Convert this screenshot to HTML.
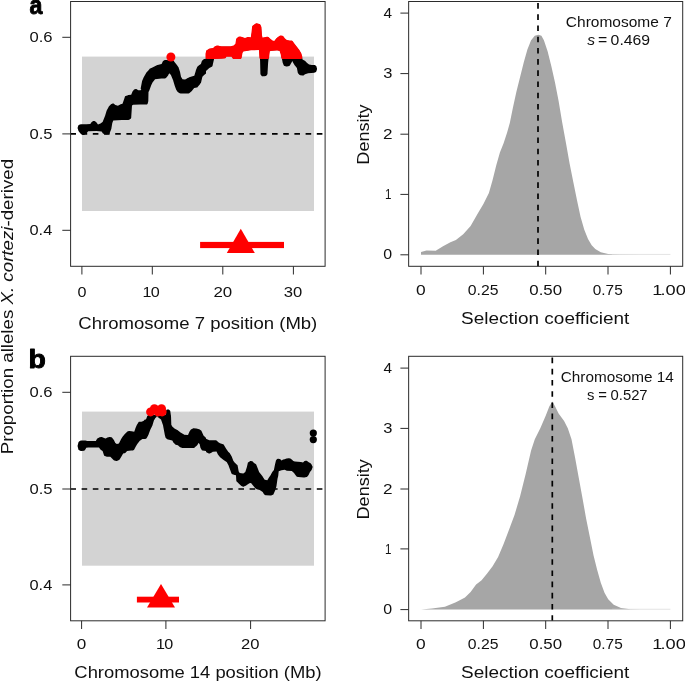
<!DOCTYPE html>
<html><head><meta charset="utf-8"><title>Figure</title>
<style>
html,body{margin:0;padding:0;background:#fff;}
svg{display:block;font-family:"Liberation Sans",sans-serif;fill:#111;}
</style></head><body>
<svg width="685" height="681" viewBox="0 0 685 681">
<rect width="685" height="681" fill="#fff"/>
<rect x="82" y="56.6" width="232" height="154.4" fill="#d3d3d3"/><line x1="70.4" x2="325.1" y1="133.9" y2="133.9" stroke="#000" stroke-width="1.7" stroke-dasharray="5.6 5.6"/><path d="M77.7,127.6 77.6,127.7 77.6,127.8 77.6,128.0 77.6,128.1 77.6,128.2 77.6,128.3 77.7,128.4 78.5,130.9 78.5,131.0 78.6,131.1 78.6,131.2 78.7,131.3 80.4,133.4 80.5,133.5 80.6,133.6 80.7,133.7 80.9,133.8 83.0,134.9 83.1,134.9 83.3,135.0 83.4,135.0 83.5,135.0 83.7,135.0 83.8,135.0 83.9,135.0 84.0,134.9 84.2,134.9 84.3,134.8 86.0,133.8 86.2,133.7 86.3,133.6 86.4,133.5 88.2,131.3 88.3,131.3 88.3,131.3 96.4,131.1 96.5,131.1 101.5,131.6 101.5,131.6 101.6,131.6 102.8,133.3 102.9,133.4 103.0,133.5 103.1,133.6 103.2,133.7 103.3,133.7 103.5,133.8 105.8,134.6 106.0,134.6 106.1,134.6 106.2,134.6 106.3,134.6 106.5,134.6 108.5,134.3 108.6,134.3 108.7,134.2 108.9,134.2 109.0,134.1 109.1,134.0 109.2,133.9 109.3,133.8 109.4,133.7 109.4,133.6 109.5,133.5 111.2,129.2 111.2,129.0 111.3,128.9 112.3,123.0 112.3,122.9 112.3,122.9 113.3,120.4 113.3,120.4 113.3,120.4 122.0,119.9 122.0,119.9 128.7,119.9 128.8,119.8 128.9,119.8 129.1,119.8 129.2,119.8 129.3,119.7 129.4,119.7 129.5,119.6 130.7,118.7 130.8,118.6 130.9,118.5 131.0,118.4 131.0,118.3 131.1,118.2 131.1,118.1 131.2,118.0 131.2,117.8 131.2,117.7 132.0,105.6 132.0,105.5 132.0,105.5 133.2,104.7 133.2,104.7 133.3,104.7 140.2,104.6 140.3,104.5 140.5,104.5 140.6,104.5 140.6,104.5 140.6,104.5 146.4,104.5 146.6,104.5 146.7,104.5 146.8,104.4 147.0,104.4 147.1,104.3 147.2,104.2 147.3,104.2 147.4,104.1 147.5,104.0 147.5,103.9 147.6,103.8 147.7,103.6 147.7,103.5 148.2,101.5 148.3,101.3 148.3,101.2 148.5,92.1 148.5,92.1 148.5,92.1 149.2,90.7 149.3,90.5 151.3,85.0 151.3,84.9 152.8,81.9 152.9,81.9 152.9,81.9 154.9,79.4 154.9,79.3 154.9,79.3 161.5,78.6 161.6,78.6 165.1,78.4 165.2,78.3 165.3,78.3 165.5,78.3 165.6,78.2 165.7,78.2 165.8,78.1 165.9,78.0 166.0,77.9 168.1,75.4 168.2,75.2 168.3,75.1 169.2,73.2 169.2,73.2 169.2,73.2 170.7,74.7 170.7,74.7 170.8,74.8 173.3,80.8 173.3,80.9 174.8,85.9 174.8,86.0 176.3,89.9 176.3,90.0 176.4,90.1 176.5,90.2 177.7,91.9 177.8,92.0 177.9,92.1 178.0,92.2 178.1,92.2 179.7,93.2 179.8,93.2 179.9,93.3 180.0,93.3 180.1,93.3 180.3,93.4 185.0,93.6 185.1,93.6 188.7,93.4 188.8,93.4 188.9,93.3 189.1,93.3 189.2,93.3 189.3,93.2 189.4,93.1 189.5,93.1 191.6,91.2 191.7,91.1 191.8,91.0 194.2,88.1 194.2,88.0 194.3,88.0 196.8,87.6 197.0,87.6 197.1,87.5 197.2,87.5 197.3,87.4 197.4,87.3 197.5,87.2 197.6,87.1 199.3,85.0 199.4,84.9 200.7,83.1 200.8,83.0 200.9,82.9 200.9,82.8 201.0,82.7 202.4,76.8 202.4,76.8 202.4,76.8 204.4,74.8 204.5,74.7 204.5,74.7 205.4,74.1 205.5,74.0 205.6,73.9 205.7,73.9 205.8,73.7 205.8,73.6 205.9,73.5 205.9,73.4 206.0,73.3 206.0,73.2 206.0,73.0 206.0,71.1 206.0,71.1 206.0,71.1 209.3,68.0 209.3,68.0 209.3,68.0 211.8,66.8 211.9,66.7 212.0,66.6 212.1,66.6 212.2,66.5 212.3,66.4 212.3,66.2 212.4,66.1 212.4,66.0 212.5,65.9 213.6,60.9 213.6,60.9 214.2,58.7 214.2,58.6 214.2,58.6 221.5,58.3 221.6,58.3 224.5,58.1 224.6,58.1 224.7,58.0 224.8,58.0 224.9,57.9 225.0,57.9 225.1,57.8 225.2,57.7 225.3,57.6 225.4,57.5 225.5,57.4 226.1,56.3 226.1,56.3 226.2,56.3 231.7,56.3 231.8,56.3 231.8,56.3 232.9,58.1 233.0,58.2 233.1,58.3 233.2,58.3 233.3,58.4 233.4,58.5 233.5,58.5 233.6,58.6 233.7,58.6 233.9,58.6 234.0,58.6 239.8,58.8 240.0,58.8 240.1,58.8 240.2,58.8 240.3,58.7 240.4,58.7 240.5,58.6 240.6,58.5 240.7,58.5 240.8,58.4 240.9,58.3 241.0,58.2 241.0,58.1 241.1,58.0 241.1,57.8 241.1,57.7 242.0,52.7 242.0,52.7 242.0,52.7 243.0,51.2 243.0,51.2 243.0,51.2 251.1,49.8 251.2,49.8 259.3,49.6 259.4,49.6 259.4,49.7 260.1,60.9 260.1,60.9 260.4,73.8 260.4,73.9 260.4,74.0 260.4,74.1 260.5,74.3 260.5,74.4 260.6,74.5 261.5,75.8 261.6,75.9 261.6,76.0 261.7,76.1 261.8,76.1 261.9,76.2 262.1,76.2 262.2,76.3 262.3,76.3 262.4,76.3 262.5,76.4 262.7,76.3 264.4,76.2 264.5,76.2 265.6,76.1 265.7,76.0 265.9,76.0 266.0,75.9 266.1,75.9 266.2,75.8 266.3,75.7 266.4,75.6 266.5,75.5 267.2,74.5 267.3,74.4 267.4,74.3 267.4,74.1 267.4,74.0 267.5,73.9 267.5,73.8 268.1,62.9 268.1,62.9 269.3,51.2 269.3,51.2 269.3,51.1 270.3,50.5 270.3,50.5 270.3,50.5 277.4,50.1 277.5,50.1 277.5,50.2 280.0,50.6 280.0,50.7 280.0,50.7 281.0,53.7 281.0,53.8 282.7,62.8 282.8,62.9 282.8,63.1 283.8,65.4 283.9,65.5 284.0,65.6 284.1,65.7 284.1,65.8 284.3,65.9 284.4,66.0 284.5,66.0 284.6,66.1 284.7,66.1 286.3,66.5 286.5,66.5 286.6,66.6 286.7,66.6 286.8,66.5 287.0,66.5 289.2,65.9 289.3,65.9 289.4,65.8 289.5,65.8 289.6,65.7 289.7,65.6 289.8,65.5 289.9,65.4 290.0,65.3 291.2,62.9 291.3,62.9 292.3,60.9 292.3,60.9 292.3,60.9 293.3,62.9 293.3,63.0 294.8,65.4 294.9,65.5 296.9,68.0 296.9,68.0 296.9,68.1 297.8,72.8 297.9,72.9 297.9,73.0 297.9,73.1 298.0,73.2 298.1,73.3 298.2,73.4 299.6,74.9 299.7,75.0 299.9,75.1 300.0,75.1 300.1,75.2 300.2,75.2 300.4,75.2 302.5,75.6 302.6,75.6 302.7,75.6 302.8,75.6 303.0,75.6 303.1,75.5 303.2,75.5 303.3,75.4 303.5,75.4 305.0,74.2 305.1,74.2 305.1,74.2 308.1,73.3 308.1,73.3 308.1,73.3 314.4,72.7 314.6,72.6 314.7,72.6 314.8,72.6 314.9,72.5 315.0,72.4 315.9,71.9 316.0,71.8 316.1,71.7 316.2,71.6 316.3,71.5 316.3,71.4 316.4,71.3 316.4,71.2 317.0,69.2 317.0,69.1 317.0,69.0 317.1,68.8 317.0,68.7 317.0,68.6 317.0,68.5 316.4,66.4 316.4,66.3 316.3,66.2 316.3,66.1 316.2,66.0 316.1,65.9 316.0,65.8 315.9,65.7 315.1,65.2 315.0,65.1 314.9,65.1 314.7,65.0 314.6,65.0 314.5,65.0 314.4,65.0 311.7,65.0 311.7,65.0 311.7,65.0 309.2,64.5 309.1,64.5 309.1,64.4 307.1,62.9 307.1,62.9 305.2,61.0 305.0,60.9 304.9,60.8 302.5,59.4 302.5,59.3 302.5,59.3 301.0,53.9 301.0,53.8 300.9,53.7 300.9,53.6 299.0,50.2 298.9,50.1 298.9,50.1 296.9,47.6 296.9,47.6 295.3,45.5 293.8,43.5 293.8,43.5 292.2,41.4 292.1,41.3 292.0,41.3 291.9,41.2 291.8,41.1 291.6,41.1 291.5,41.0 291.4,41.0 291.3,41.0 291.1,40.9 289.7,40.9 289.7,40.9 289.7,40.9 286.7,40.4 286.7,40.4 286.6,40.4 284.6,38.9 284.6,38.9 284.6,38.9 283.1,36.7 283.0,36.6 282.9,36.5 282.8,36.5 282.7,36.4 282.5,36.3 282.4,36.3 282.3,36.2 281.1,36.0 280.9,35.9 280.8,35.9 280.7,35.9 280.5,36.0 280.4,36.0 280.3,36.0 280.2,36.1 280.1,36.2 278.0,37.5 277.9,37.6 276.5,38.8 276.4,38.9 276.4,39.0 274.4,41.4 274.4,41.5 274.4,41.5 272.4,41.0 272.4,40.9 272.3,40.9 270.3,39.4 270.3,39.4 268.6,37.7 268.5,37.6 268.4,37.5 268.3,37.5 268.2,37.4 268.0,37.4 267.9,37.3 267.8,37.3 267.0,37.3 266.8,37.2 266.7,37.3 266.6,37.3 266.5,37.3 266.4,37.4 266.2,37.4 266.1,37.5 266.0,37.6 266.0,37.6 266.0,37.6 262.1,38.2 262.1,38.2 262.1,38.2 261.5,35.4 261.5,35.3 261.5,35.3 261.0,27.4 261.0,27.3 261.0,27.2 260.9,27.0 260.9,26.9 260.1,25.2 260.1,25.1 260.0,24.9 259.9,24.8 259.8,24.8 259.7,24.7 259.6,24.6 259.5,24.5 259.4,24.5 259.3,24.4 256.9,23.8 256.7,23.8 256.6,23.8 256.5,23.8 256.4,23.8 256.3,23.8 256.1,23.8 256.0,23.9 255.9,23.9 255.8,24.0 253.2,25.8 253.1,25.9 253.0,26.0 252.9,26.0 252.9,26.1 252.8,26.3 252.7,26.4 252.7,26.5 252.7,26.6 252.6,26.7 252.0,32.3 252.0,32.3 251.2,37.9 251.2,37.9 251.1,37.9 248.4,37.4 248.3,37.4 248.2,37.4 248.1,37.4 247.9,37.4 247.8,37.5 245.1,38.4 245.0,38.4 245.0,38.4 242.0,37.4 241.9,37.4 240.3,37.0 240.2,36.9 240.1,36.9 239.9,36.9 239.8,36.9 239.7,36.9 239.6,37.0 238.7,37.3 238.5,37.3 238.4,37.4 238.3,37.5 238.2,37.5 237.0,38.6 236.9,38.7 236.8,38.8 236.8,38.9 236.7,39.0 236.7,39.1 236.6,39.2 236.6,39.4 235.9,44.0 235.9,44.0 235.8,44.0 233.8,46.0 233.8,46.1 233.8,46.1 230.8,46.8 230.7,46.8 230.7,46.8 221.6,46.8 221.5,46.8 219.5,46.6 219.5,46.6 219.5,46.6 217.9,46.0 217.8,46.0 217.6,45.9 217.5,45.9 217.4,45.9 217.3,45.9 217.1,46.0 217.0,46.0 215.2,46.7 215.1,46.7 215.0,46.8 214.9,46.9 214.8,46.9 214.7,47.0 213.4,48.6 213.4,48.6 213.3,48.6 209.6,49.1 209.4,49.1 209.3,49.2 209.2,49.2 209.0,49.3 207.2,50.4 207.1,50.4 207.0,50.5 206.9,50.6 206.8,50.7 206.7,50.8 206.7,50.9 206.6,51.1 206.6,51.2 206.0,53.6 206.0,53.7 206.0,53.9 206.0,58.4 206.0,58.4 206.0,58.4 203.7,59.3 203.6,59.4 203.5,59.4 203.4,59.5 203.3,59.6 202.1,60.7 202.0,60.8 202.0,60.9 201.9,61.0 201.9,61.1 201.8,61.2 200.9,64.0 200.9,64.0 200.9,64.0 199.4,65.0 199.3,65.1 197.6,66.6 197.5,66.6 197.4,66.7 197.3,66.8 197.2,67.0 197.2,67.1 195.8,70.6 195.8,70.7 194.3,75.7 194.2,75.8 194.2,75.8 191.7,76.6 191.7,76.6 189.3,77.3 189.1,77.3 189.0,77.4 187.2,78.3 187.0,78.4 185.1,79.6 185.0,79.6 185.0,79.6 182.5,79.3 182.5,79.3 182.5,79.3 181.0,76.8 181.0,76.8 181.0,76.8 180.0,71.8 179.9,71.6 178.5,67.3 178.4,67.1 178.4,67.0 178.3,66.9 176.9,65.0 174.1,61.4 174.1,61.3 174.0,61.2 173.9,61.1 173.8,61.0 173.6,61.0 173.5,60.9 173.4,60.9 173.3,60.9 169.7,60.4 169.7,60.4 166.8,59.9 166.7,59.9 166.5,59.9 165.4,59.9 165.3,59.9 165.2,59.9 165.1,60.0 165.0,60.0 164.8,60.1 163.5,60.8 163.4,60.8 163.3,60.9 163.2,61.0 163.1,61.0 163.0,61.1 162.9,61.2 162.9,61.3 161.6,64.0 161.5,64.0 161.5,64.0 157.6,65.0 157.5,65.0 157.3,65.1 154.4,66.6 151.4,68.1 151.3,68.1 150.2,68.5 150.1,68.5 149.9,68.6 149.8,68.7 149.7,68.7 149.6,68.8 149.6,68.9 148.3,70.6 148.2,70.7 146.8,72.1 146.7,72.2 146.6,72.3 143.7,77.2 143.6,77.4 142.2,80.7 142.1,80.9 142.1,81.0 140.7,88.3 140.7,88.4 140.7,88.5 140.7,88.7 140.7,88.8 140.8,88.9 140.8,89.0 140.9,89.2 140.9,89.3 141.0,89.4 141.1,89.5 141.2,89.5 141.4,89.7 141.4,89.7 141.4,89.7 140.4,90.2 140.4,90.2 140.3,90.2 138.4,90.2 138.3,90.2 138.3,90.2 136.7,89.3 136.6,89.2 136.5,89.1 136.4,89.1 136.3,89.1 136.2,89.1 136.0,89.1 135.9,89.1 135.8,89.1 134.7,89.3 134.6,89.3 134.5,89.4 134.3,89.4 134.2,89.5 134.1,89.6 134.0,89.7 133.9,89.8 132.5,91.6 132.5,91.7 132.4,91.8 132.3,91.9 131.2,94.8 131.2,94.8 131.1,94.8 128.3,95.1 128.1,95.1 128.0,95.2 125.7,95.9 125.6,96.0 125.5,96.0 125.4,96.1 125.3,96.2 125.2,96.3 125.1,96.3 125.0,96.4 124.9,96.6 124.9,96.7 124.9,96.8 124.0,99.4 124.0,99.4 122.5,103.7 122.5,103.7 122.5,103.7 120.6,104.3 120.5,104.3 120.3,104.4 117.9,105.7 117.9,105.7 117.9,105.7 115.4,105.0 115.3,105.0 115.3,105.0 113.9,103.8 113.8,103.7 113.7,103.6 113.6,103.6 113.4,103.5 113.3,103.5 113.2,103.5 113.1,103.5 113.0,103.5 112.8,103.5 112.7,103.5 112.6,103.5 111.6,103.9 111.4,104.0 111.3,104.0 111.2,104.1 111.1,104.2 111.0,104.3 108.8,106.6 108.7,106.7 108.7,106.8 108.6,106.9 106.7,110.5 106.7,110.7 106.6,110.8 105.1,115.7 105.1,115.8 102.6,121.9 102.6,121.9 102.5,121.9 100.5,123.4 100.5,123.4 100.5,123.4 98.0,124.4 98.0,124.4 98.0,124.4 96.1,122.1 96.0,122.0 95.9,121.9 95.8,121.8 95.7,121.8 94.6,121.1 94.4,121.0 94.3,121.0 94.2,120.9 94.1,120.9 93.9,120.9 93.8,120.9 93.7,120.9 93.6,120.9 93.4,121.0 93.3,121.0 93.2,121.1 92.1,121.7 92.0,121.8 91.9,121.9 91.8,122.0 91.7,122.1 90.3,124.1 90.3,124.1 90.3,124.1 86.2,124.3 86.2,124.3 81.3,124.2 81.2,124.2 81.1,124.2 81.0,124.2 80.9,124.2 79.2,124.8 79.1,124.8 79.0,124.9 78.9,124.9 78.8,125.0 78.7,125.1 78.6,125.2 78.5,125.3 78.4,125.4 78.4,125.5 78.3,125.6Z" fill="#000"/><path d="M205.5,57.4 205.5,57.6 205.5,57.7 205.6,57.9 205.6,58.0 205.7,58.2 205.8,58.3 205.9,58.5 206.0,58.6 206.1,58.7 206.3,58.8 206.4,58.9 206.5,59.0 206.7,59.0 206.9,59.1 207.0,59.1 207.2,59.1 214.8,59.1 214.9,59.1 221.5,58.8 221.6,58.8 221.6,58.8 221.6,58.8 224.5,58.6 224.5,58.6 224.6,58.6 224.7,58.5 224.8,58.5 224.9,58.5 224.9,58.5 225.1,58.4 225.1,58.4 225.2,58.3 225.2,58.3 225.4,58.3 225.4,58.2 225.5,58.1 225.5,58.1 225.6,58.0 225.6,58.0 225.7,57.9 225.8,57.9 225.8,57.8 225.9,57.7 225.9,57.7 226.4,56.8 231.5,56.8 232.5,58.3 232.5,58.4 232.6,58.4 232.7,58.5 232.8,58.6 232.9,58.7 233.0,58.8 233.2,58.9 233.3,59.0 233.5,59.0 233.6,59.1 233.8,59.1 233.9,59.1 240.0,59.1 240.2,59.1 240.3,59.1 240.5,59.0 240.6,59.0 240.8,58.9 240.9,58.8 241.1,58.7 241.2,58.6 241.3,58.5 241.4,58.3 241.5,58.2 241.6,58.0 241.6,57.8 241.7,57.7 242.5,52.9 243.3,51.6 251.2,50.3 251.2,50.3 251.2,50.3 251.3,50.3 258.9,50.1 259.4,57.5 259.4,57.7 259.4,57.8 259.5,58.0 259.5,58.2 259.6,58.3 259.7,58.5 259.8,58.6 260.0,58.7 260.1,58.8 260.2,58.9 260.4,59.0 260.5,59.0 260.7,59.1 260.9,59.1 261.1,59.1 267.4,59.1 267.6,59.1 267.8,59.1 267.9,59.0 268.1,59.0 268.2,58.9 268.4,58.8 268.5,58.7 268.6,58.6 268.7,58.5 268.8,58.3 268.9,58.2 269.0,58.1 269.1,57.9 269.1,57.7 269.1,57.6 269.8,51.4 270.5,50.9 277.4,50.6 277.4,50.6 279.6,51.1 280.5,53.8 280.5,53.8 280.6,53.9 280.6,53.9 281.3,57.7 281.3,57.9 281.4,58.0 281.4,58.2 281.5,58.3 281.6,58.5 281.7,58.6 281.9,58.7 282.0,58.8 282.1,58.9 282.3,59.0 282.5,59.0 282.6,59.1 282.8,59.1 283.0,59.1 300.7,59.1 300.9,59.1 301.0,59.1 301.2,59.0 301.4,59.0 301.5,58.9 301.7,58.8 301.8,58.7 301.9,58.6 302.0,58.5 302.1,58.4 302.2,58.2 302.3,58.1 302.3,57.9 302.4,57.8 302.4,57.6 302.4,57.4 302.4,57.3 302.4,57.1 302.4,57.0 301.5,53.8 301.5,53.7 301.5,53.7 301.4,53.5 301.4,53.5 301.4,53.4 301.3,53.4 301.3,53.3 299.4,50.0 299.4,49.9 299.4,49.9 299.3,49.8 299.3,49.8 299.2,49.7 297.3,47.3 297.3,47.3 297.3,47.3 297.3,47.3 295.7,45.2 294.2,43.2 294.2,43.2 294.2,43.2 294.2,43.2 292.6,41.1 292.5,41.1 292.5,41.1 292.4,40.9 292.4,40.9 292.2,40.8 292.2,40.8 292.1,40.7 292.1,40.7 291.9,40.6 291.9,40.6 291.8,40.6 291.8,40.6 291.6,40.5 291.6,40.5 291.4,40.5 291.4,40.5 291.2,40.5 291.2,40.5 291.1,40.4 289.8,40.4 289.8,40.4 286.9,40.0 285.0,38.6 283.5,36.5 283.4,36.4 283.4,36.4 283.3,36.2 283.3,36.2 283.2,36.1 283.1,36.1 283.0,36.0 283.0,36.0 282.8,35.9 282.8,35.9 282.7,35.8 282.7,35.8 282.5,35.8 282.5,35.8 282.4,35.7 281.2,35.5 281.1,35.5 281.1,35.5 280.9,35.4 280.9,35.4 280.7,35.4 280.7,35.4 280.6,35.4 280.5,35.5 280.4,35.5 280.4,35.5 280.2,35.5 280.2,35.5 280.0,35.6 280.0,35.6 279.9,35.7 279.8,35.7 279.8,35.8 277.8,37.1 277.7,37.2 277.6,37.2 277.6,37.3 276.2,38.4 276.2,38.5 276.1,38.5 276.0,38.6 276.0,38.6 276.0,38.7 274.2,40.9 272.6,40.5 270.7,39.1 270.6,39.0 270.6,39.0 270.6,39.0 269.0,37.4 268.9,37.3 268.9,37.3 268.7,37.2 268.7,37.2 268.6,37.1 268.6,37.1 268.4,37.0 268.4,37.0 268.3,36.9 268.3,36.9 268.1,36.9 268.1,36.9 267.9,36.8 267.9,36.8 267.8,36.8 267.1,36.8 267.0,36.8 266.9,36.8 266.8,36.8 266.8,36.8 266.6,36.8 266.6,36.8 266.4,36.8 266.4,36.8 266.2,36.9 266.2,36.9 266.1,36.9 266.1,36.9 265.9,37.0 265.9,37.0 265.8,37.1 262.5,37.6 262.0,35.3 262.0,35.3 261.5,27.4 261.5,27.3 261.5,27.3 261.5,27.1 261.5,27.1 261.4,27.0 261.4,27.0 261.4,26.8 261.4,26.8 261.3,26.7 260.6,25.0 260.6,24.9 260.5,24.9 260.5,24.7 260.4,24.7 260.3,24.6 260.3,24.6 260.2,24.5 260.2,24.4 260.1,24.3 260.1,24.3 260.0,24.2 259.9,24.2 259.8,24.1 259.8,24.1 259.6,24.0 259.6,24.0 259.5,24.0 259.4,24.0 259.4,23.9 257.0,23.3 256.9,23.3 256.9,23.3 256.7,23.3 256.7,23.3 256.6,23.3 256.6,23.3 256.4,23.3 256.4,23.3 256.2,23.3 256.2,23.3 256.1,23.3 256.1,23.4 255.9,23.4 255.9,23.4 255.7,23.5 255.7,23.5 255.6,23.6 255.6,23.6 255.5,23.6 252.9,25.4 252.9,25.4 252.8,25.4 252.7,25.5 252.7,25.5 252.6,25.7 252.6,25.7 252.5,25.8 252.5,25.8 252.4,25.9 252.4,25.9 252.3,26.1 252.3,26.1 252.3,26.2 252.2,26.3 252.2,26.4 252.2,26.4 252.2,26.6 252.2,26.6 252.1,26.7 251.5,32.2 251.5,32.2 250.8,37.3 248.5,36.9 248.5,36.9 248.4,36.9 248.3,36.9 248.2,36.9 248.1,36.9 248.1,36.9 247.9,36.9 247.9,36.9 247.7,37.0 247.7,37.0 247.6,37.0 245.0,37.9 242.2,36.9 242.1,36.9 242.1,36.9 242.0,36.9 240.5,36.5 240.4,36.5 240.3,36.4 240.2,36.4 240.2,36.4 240.0,36.4 240.0,36.4 239.8,36.4 239.8,36.4 239.7,36.4 239.7,36.4 239.5,36.5 239.5,36.5 239.4,36.5 238.5,36.8 238.4,36.8 238.4,36.8 238.3,36.9 238.2,36.9 238.1,37.0 238.1,37.0 238.0,37.1 237.9,37.1 237.9,37.2 236.7,38.2 236.7,38.3 236.6,38.3 236.5,38.4 236.5,38.4 236.4,38.5 236.4,38.6 236.3,38.7 236.3,38.7 236.2,38.9 236.2,38.9 236.2,39.0 236.2,39.0 236.1,39.2 236.1,39.2 236.1,39.3 235.4,43.8 233.6,45.6 230.7,46.3 230.7,46.3 221.6,46.3 221.6,46.3 221.6,46.3 221.5,46.3 219.6,46.1 219.6,46.1 218.1,45.5 218.0,45.5 218.0,45.5 217.8,45.5 217.8,45.5 217.6,45.4 217.6,45.4 217.5,45.4 217.5,45.4 217.3,45.4 217.3,45.4 217.1,45.5 217.1,45.5 216.9,45.5 216.9,45.5 216.8,45.5 215.1,46.2 215.0,46.2 215.0,46.2 214.8,46.3 214.8,46.3 214.7,46.4 214.6,46.4 214.5,46.5 214.5,46.5 214.4,46.6 214.3,46.7 214.3,46.7 213.1,48.1 209.5,48.6 209.4,48.6 209.4,48.6 209.2,48.6 209.2,48.7 209.0,48.7 209.0,48.7 208.9,48.8 208.8,48.8 208.8,48.9 207.0,49.9 206.9,50.0 206.9,50.0 206.7,50.1 206.7,50.1 206.6,50.2 206.6,50.2 206.5,50.4 206.5,50.4 206.4,50.5 206.4,50.5 206.3,50.7 206.3,50.7 206.2,50.8 206.2,50.8 206.1,51.0 206.1,51.0 206.1,51.1 205.6,53.4 205.5,53.5 205.5,53.6 205.5,53.8 205.5,53.8 205.5,53.9Z" fill="#f00"/><g fill="#f00"><circle cx="170.9" cy="57.0" r="4.5"/></g><rect x="200.1" y="241.9" width="83.9" height="6.2" fill="#f00"/><polygon points="240.8,228.8 226.8,253.1 254.8,253.1" fill="#f00"/><rect x="70.6" y="1.5" width="254.5" height="264.8" fill="none" stroke="#2b2b2b" stroke-width="1"/><line x1="62.3" x2="70.6" y1="37.3" y2="37.3" stroke="#2b2b2b" stroke-width="1"/><line x1="62.3" x2="70.6" y1="133.9" y2="133.9" stroke="#2b2b2b" stroke-width="1"/><line x1="62.3" x2="70.6" y1="230.3" y2="230.3" stroke="#2b2b2b" stroke-width="1"/><line x1="81.9" x2="81.9" y1="266.3" y2="274.5" stroke="#2b2b2b" stroke-width="1"/><line x1="152.3" x2="152.3" y1="266.3" y2="274.5" stroke="#2b2b2b" stroke-width="1"/><line x1="222.8" x2="222.8" y1="266.3" y2="274.5" stroke="#2b2b2b" stroke-width="1"/><line x1="293.4" x2="293.4" y1="266.3" y2="274.5" stroke="#2b2b2b" stroke-width="1"/>
<rect x="82" y="411.6" width="232" height="154.1" fill="#d3d3d3"/><line x1="70.4" x2="325.1" y1="489" y2="489" stroke="#000" stroke-width="1.7" stroke-dasharray="5.6 5.6"/><path d="M158.7,414.9 158.5,414.9 158.4,415.0 158.3,415.0 158.2,415.0 158.0,415.1 157.9,415.1 157.8,415.2 157.7,415.3 157.7,415.4 157.6,415.5 157.5,415.6 157.5,415.7 157.4,415.9 157.4,416.0 157.4,416.1 157.4,416.2 157.4,416.4 157.4,416.5 157.4,416.6 157.5,416.7 157.5,416.9 157.6,417.0 157.7,417.1 157.8,417.2 157.8,417.2 158.0,417.3 159.0,418.0 159.0,418.0 161.0,419.5 161.0,419.5 161.0,419.6 163.1,425.6 163.1,425.7 164.6,433.8 164.6,433.9 165.5,437.5 165.6,437.6 165.6,437.7 165.7,437.8 165.7,437.9 165.8,438.0 165.9,438.1 166.0,438.2 167.4,439.3 167.5,439.3 167.6,439.4 167.7,439.4 167.9,439.5 168.0,439.5 170.2,440.0 170.2,440.0 172.2,440.5 172.3,440.5 172.3,440.5 173.7,442.9 173.8,443.0 173.9,443.1 175.1,444.3 175.2,444.4 175.3,444.5 175.4,444.6 175.5,444.6 175.7,444.7 177.9,445.3 177.9,445.3 177.9,445.3 179.8,447.0 179.9,447.0 180.0,447.1 180.1,447.2 180.2,447.2 181.8,447.8 181.9,447.9 182.0,447.9 182.1,447.9 182.2,447.9 193.8,447.9 193.9,447.9 194.0,447.9 194.2,447.9 194.3,447.8 194.4,447.8 194.5,447.7 194.6,447.6 195.7,446.6 195.8,446.6 197.2,445.2 197.3,445.1 197.4,444.9 198.5,443.1 198.5,443.0 198.6,443.1 199.5,444.0 199.6,444.1 199.6,444.1 200.5,448.0 200.6,448.1 200.6,448.2 200.7,448.3 201.6,449.8 201.7,449.9 201.7,450.0 201.8,450.1 201.9,450.2 202.0,450.3 202.2,450.4 202.3,450.4 202.4,450.4 202.5,450.5 206.0,450.9 206.0,450.9 206.0,450.9 206.0,451.3 206.0,451.4 206.0,451.5 206.1,451.7 206.1,451.8 206.2,451.9 206.2,452.0 206.3,452.1 206.4,452.2 206.5,452.3 206.6,452.4 206.8,452.4 208.8,453.4 208.9,453.4 209.0,453.5 209.2,453.5 209.3,453.5 209.4,453.5 209.6,453.5 209.7,453.4 209.8,453.4 211.2,452.8 211.3,452.8 211.4,452.7 212.8,451.8 212.9,451.8 212.9,451.8 216.4,451.6 216.4,451.6 216.5,451.6 217.9,454.5 218.0,454.6 218.1,454.7 219.9,457.1 220.0,457.2 220.1,457.3 223.6,459.9 223.6,460.0 226.6,462.0 226.7,462.0 226.7,462.0 228.7,465.8 228.7,465.9 230.2,470.0 231.5,473.5 231.6,473.6 231.7,473.7 231.7,473.8 231.8,473.9 231.9,474.0 232.0,474.1 232.1,474.1 232.2,474.2 232.4,474.2 234.7,475.0 234.9,475.1 235.9,475.3 236.0,475.3 236.0,475.3 236.0,475.6 236.0,475.7 236.3,480.8 236.3,480.9 236.3,481.0 236.4,481.1 236.4,481.2 236.5,481.3 236.5,481.4 236.6,481.5 236.7,481.6 239.2,484.0 239.2,484.1 241.1,485.8 241.2,485.8 241.3,485.9 241.4,486.0 242.7,486.6 242.8,486.7 243.0,486.7 243.1,486.7 243.2,486.7 243.4,486.7 243.5,486.7 243.6,486.7 243.7,486.7 243.9,486.6 246.3,485.4 246.4,485.3 249.4,483.3 249.4,483.3 249.4,483.3 250.9,483.0 250.9,483.0 251.0,483.0 253.0,485.4 253.0,485.4 254.9,487.8 255.0,487.9 255.1,488.0 256.4,489.0 256.5,489.1 256.6,489.1 256.7,489.2 256.8,489.2 259.6,490.0 259.6,490.0 259.7,490.0 262.7,492.0 262.7,492.0 262.7,492.0 264.0,494.2 264.1,494.3 264.2,494.4 264.3,494.5 264.4,494.6 264.5,494.7 264.6,494.7 265.5,495.2 265.7,495.2 265.8,495.3 265.9,495.3 266.0,495.3 270.6,495.6 270.7,495.6 270.9,495.6 271.0,495.5 271.1,495.5 272.9,494.8 273.0,494.7 273.2,494.6 273.3,494.6 273.4,494.5 273.4,494.4 273.5,494.3 273.6,494.2 273.6,494.1 274.9,491.1 275.0,490.9 276.5,486.0 276.5,485.9 276.5,485.8 277.5,478.7 277.5,478.7 278.2,476.0 278.2,475.9 278.7,471.3 278.7,471.3 278.7,471.3 281.5,470.3 281.5,470.3 281.6,470.2 284.6,469.7 284.6,469.7 284.6,469.8 286.4,470.6 286.5,470.7 286.7,470.7 286.8,470.8 286.9,470.8 291.7,471.0 291.8,471.0 291.8,471.0 294.3,473.3 294.3,473.3 294.3,473.4 296.2,476.1 296.2,476.2 296.3,476.3 296.4,476.3 296.5,476.4 296.6,476.5 296.7,476.5 297.7,477.0 297.8,477.0 297.9,477.1 298.0,477.1 298.2,477.1 303.9,477.4 304.0,477.4 304.2,477.4 306.6,477.0 306.7,477.0 306.8,476.9 306.9,476.9 307.0,476.8 307.1,476.7 307.2,476.7 307.3,476.6 307.4,476.5 308.6,474.9 308.6,474.9 308.7,474.7 310.1,471.8 310.2,471.8 310.2,471.8 311.6,469.9 311.6,469.8 311.7,469.7 311.8,469.6 312.5,467.4 312.6,467.3 312.6,467.2 312.6,467.0 312.6,466.9 312.6,466.8 312.6,466.6 312.5,466.5 312.5,466.4 311.4,464.2 311.3,464.0 311.2,463.9 311.1,463.9 311.1,463.8 311.0,463.7 310.9,463.6 309.2,462.6 309.1,462.6 307.7,461.4 307.6,461.4 307.5,461.3 306.6,460.8 306.4,460.8 306.3,460.7 306.2,460.7 306.1,460.7 305.9,460.7 305.8,460.7 305.7,460.7 305.5,460.7 304.8,461.0 304.7,461.0 304.6,461.1 304.4,461.1 304.3,461.2 303.0,462.4 303.0,462.4 303.0,462.4 301.0,462.1 300.9,462.1 294.9,461.6 294.8,461.6 294.8,461.6 293.3,461.1 293.3,461.1 293.3,461.0 291.8,459.6 291.7,459.5 291.0,458.9 290.9,458.8 290.8,458.8 290.7,458.7 290.6,458.7 290.4,458.6 288.9,458.3 288.8,458.3 288.6,458.3 288.5,458.3 286.8,458.5 286.7,458.5 286.6,458.5 286.5,458.6 284.6,459.3 284.6,459.3 284.6,459.3 283.4,459.5 283.3,459.5 283.1,459.5 283.0,459.6 282.9,459.6 282.8,459.7 281.6,460.5 281.5,460.5 281.5,460.5 280.3,459.3 280.2,459.2 280.1,459.1 280.0,459.1 279.9,459.0 279.7,459.0 279.6,458.9 278.3,458.7 278.2,458.7 278.1,458.7 278.0,458.7 277.9,458.7 277.7,458.8 277.6,458.8 277.5,458.9 277.4,458.9 277.3,459.0 277.2,459.1 276.2,460.1 276.2,460.2 276.1,460.3 276.0,460.4 276.0,460.5 275.9,460.6 275.9,460.7 275.0,464.4 275.0,464.5 273.9,470.0 273.9,470.0 273.9,470.1 272.5,471.7 272.4,471.8 272.3,471.9 270.9,474.6 270.9,474.7 268.8,477.7 268.8,477.7 267.3,480.2 267.3,480.3 267.3,480.2 264.8,479.7 264.7,479.7 264.7,479.7 262.7,476.7 262.7,476.6 259.1,472.1 259.1,472.1 259.1,472.0 257.6,468.0 257.6,468.0 256.2,464.6 256.2,464.5 256.1,464.4 256.0,464.3 255.9,464.2 255.8,464.1 255.7,464.0 254.0,462.9 254.0,462.9 254.0,462.9 252.7,461.6 252.6,461.5 252.6,461.5 252.5,461.4 252.4,461.3 252.2,461.3 252.1,461.3 251.0,461.0 250.9,461.0 250.8,460.9 250.6,460.9 250.5,461.0 250.4,461.0 250.3,461.0 250.2,461.0 250.1,461.1 250.0,461.2 248.3,462.3 248.2,462.4 248.1,462.4 248.0,462.5 248.0,462.6 247.9,462.7 247.8,462.8 247.8,463.0 247.8,463.1 246.9,467.0 246.9,467.0 245.3,472.0 245.3,472.1 245.3,472.1 243.3,473.6 243.3,473.6 243.3,473.6 239.7,473.1 239.7,473.1 239.7,473.1 238.7,471.6 238.7,471.6 238.7,471.5 237.7,465.9 237.7,465.8 237.7,465.6 237.6,465.5 237.6,465.4 237.5,465.3 237.4,465.2 237.3,465.1 236.1,463.9 236.0,463.9 236.0,463.9 236.0,463.8 235.9,463.7 235.9,463.6 235.8,463.5 235.7,463.4 235.6,463.4 234.9,462.8 234.8,462.8 234.8,462.8 233.3,460.8 233.3,460.8 233.3,460.7 231.8,456.8 231.8,456.7 231.7,456.6 229.8,453.3 229.8,453.2 229.7,453.1 229.6,453.0 228.2,451.8 228.2,451.8 228.2,451.7 226.7,449.5 226.6,449.5 225.1,447.0 223.8,444.8 223.8,444.7 223.7,444.6 223.6,444.5 223.5,444.4 223.4,444.4 223.3,444.3 223.1,444.3 220.0,443.2 220.0,443.2 220.0,443.2 218.0,441.9 218.0,441.9 217.9,441.8 216.8,440.7 216.7,440.6 216.6,440.5 216.5,440.5 216.4,440.4 216.3,440.4 216.2,440.4 216.0,440.3 215.9,440.3 209.3,440.3 209.3,440.3 209.3,440.3 206.0,438.8 206.0,438.8 206.0,438.8 206.0,438.4 206.0,438.3 206.0,438.2 205.9,438.1 205.9,438.0 205.9,437.8 205.8,437.7 205.7,437.6 205.6,437.5 203.5,435.4 203.4,435.4 203.4,435.3 201.5,431.1 201.5,431.0 201.4,430.8 201.3,430.7 201.2,430.6 201.1,430.6 199.6,429.4 199.5,429.3 199.3,429.3 199.2,429.2 199.1,429.2 196.4,428.5 196.2,428.5 193.7,428.3 193.5,428.2 193.4,428.3 193.3,428.3 193.2,428.3 193.1,428.3 193.0,428.4 192.9,428.4 190.9,429.6 190.8,429.7 190.7,429.7 190.7,429.8 190.6,429.9 190.5,430.0 189.4,431.7 189.3,431.8 189.3,431.9 188.1,434.8 188.1,434.9 188.1,434.9 184.1,434.7 184.0,434.6 184.0,434.6 181.0,432.8 181.0,432.8 180.9,432.8 178.0,430.4 177.9,430.3 177.8,430.2 174.9,428.7 174.8,428.7 174.8,428.7 172.0,426.2 172.0,426.2 172.0,426.1 171.3,424.7 171.3,424.6 171.3,424.6 171.0,415.5 170.9,415.4 170.3,411.3 170.3,411.1 170.2,411.0 170.2,410.9 170.1,410.8 170.0,410.6 169.9,410.5 169.1,409.7 169.0,409.7 168.9,409.6 168.8,409.5 168.7,409.5 168.6,409.4 168.5,409.4 168.3,409.4 168.2,409.4 168.1,409.4 167.4,409.4 167.3,409.5 167.2,409.5 167.0,409.5 166.9,409.6 166.8,409.6 166.7,409.7 166.6,409.8 166.5,409.9 166.5,410.0 166.4,410.1 166.3,410.2 165.9,411.1 165.9,411.2 165.9,411.4 165.8,411.5 165.8,411.6 165.6,414.9 165.6,414.9 165.6,414.9ZM77.6,445.7 77.6,445.8 77.6,445.9 77.6,446.0 77.6,446.2 77.6,446.3 78.4,449.4 78.4,449.5 78.5,449.7 78.5,449.8 78.6,449.9 78.7,450.0 78.8,450.1 78.9,450.1 79.0,450.2 79.1,450.3 79.2,450.3 80.8,451.0 80.9,451.0 81.0,451.0 81.2,451.1 81.3,451.1 81.5,451.0 84.0,450.7 84.2,450.6 84.3,450.6 84.4,450.6 84.5,450.5 84.7,450.4 84.8,450.3 84.8,450.2 84.9,450.1 85.0,450.0 86.2,447.9 86.2,447.8 86.3,447.8 88.2,447.5 88.3,447.5 88.3,447.5 99.0,447.5 99.0,447.5 99.0,447.5 100.4,449.4 100.5,449.5 100.6,449.6 100.7,449.7 102.5,451.1 102.6,451.1 102.6,451.1 103.9,455.1 104.0,455.2 104.0,455.3 104.1,455.5 104.2,455.6 104.2,455.6 104.3,455.7 104.4,455.8 104.5,455.9 104.7,455.9 106.4,456.6 106.5,456.7 106.7,456.7 106.8,456.7 106.9,456.7 110.2,456.7 110.2,456.7 110.3,456.7 111.8,458.2 113.5,460.0 113.6,460.1 113.7,460.2 113.8,460.2 113.9,460.3 114.1,460.3 114.2,460.4 116.4,460.9 116.6,460.9 116.7,460.9 116.8,460.9 116.9,460.9 117.1,460.9 117.2,460.9 117.3,460.8 119.1,459.9 119.2,459.9 119.3,459.8 119.4,459.7 119.5,459.6 119.6,459.5 119.6,459.4 121.0,457.2 121.0,457.2 123.0,453.7 123.0,453.6 123.0,453.6 124.7,453.2 124.8,453.2 124.9,453.1 125.0,453.1 125.1,453.0 125.2,453.0 125.3,452.9 127.1,451.1 127.1,451.1 127.1,451.1 131.2,450.6 133.1,450.4 133.2,450.3 133.3,450.3 133.4,450.3 133.5,450.2 133.6,450.1 133.7,450.1 133.8,450.0 133.9,449.9 134.0,449.8 134.1,449.7 135.8,446.5 135.8,446.5 137.3,444.0 137.3,443.9 139.8,440.7 139.9,440.7 139.9,440.7 142.4,439.1 142.4,439.0 142.5,439.0 145.4,438.9 145.6,438.8 145.7,438.8 145.8,438.8 146.0,438.7 146.1,438.7 146.2,438.6 146.3,438.5 146.4,438.4 146.5,438.3 147.2,437.2 147.2,437.1 147.3,437.0 148.8,433.9 148.8,433.8 150.3,429.8 150.3,429.7 152.3,425.8 152.3,425.7 152.4,425.5 153.9,420.6 153.9,420.5 153.9,420.5 155.4,418.0 155.4,418.0 155.4,418.0 156.3,417.2 156.4,417.1 156.5,417.0 156.6,416.9 156.6,416.8 156.7,416.7 156.7,416.6 156.7,416.5 156.8,416.3 156.8,416.2 156.8,416.1 156.7,416.0 156.7,415.8 156.7,415.7 156.6,415.6 156.5,415.5 156.5,415.4 156.4,415.3 156.3,415.2 156.2,415.1 156.1,415.1 156.0,415.0 155.8,415.0 155.7,415.0 155.6,414.9 155.5,414.9 149.2,414.9 149.0,414.9 148.9,415.0 148.8,415.0 148.7,415.0 148.6,415.1 148.4,415.1 147.6,415.7 147.5,415.8 147.4,415.9 147.3,415.9 147.3,416.0 147.2,416.1 147.1,416.3 147.1,416.4 146.0,419.5 146.0,419.5 146.0,419.5 145.9,419.5 145.8,419.4 145.7,419.4 145.5,419.4 145.4,419.4 145.3,419.4 145.1,419.5 145.0,419.5 144.9,419.6 144.8,419.6 144.7,419.7 144.6,419.8 143.5,420.9 143.4,420.9 143.4,421.0 141.4,421.7 141.4,421.7 141.4,421.7 139.6,421.7 139.4,421.7 139.3,421.7 139.2,421.7 139.1,421.8 138.9,421.8 138.8,421.9 138.7,422.0 138.6,422.1 138.5,422.2 138.5,422.3 136.8,425.0 136.8,425.1 135.3,428.6 135.3,428.7 134.3,431.6 134.2,431.7 134.2,431.7 131.8,431.2 131.6,431.2 129.4,431.0 129.3,431.0 129.1,431.0 129.0,431.0 128.9,431.1 127.4,431.6 127.3,431.6 127.2,431.7 127.1,431.7 127.0,431.8 126.9,431.9 125.1,433.7 125.0,433.8 122.6,436.7 122.5,436.8 122.4,436.9 121.0,439.3 120.9,439.4 118.9,443.4 118.9,443.4 118.9,443.4 116.9,444.1 116.9,444.1 116.8,444.1 115.4,442.9 115.3,442.9 115.3,442.9 113.9,440.0 113.8,439.9 113.7,439.7 112.1,437.7 112.0,437.6 111.9,437.5 111.8,437.4 111.7,437.4 111.6,437.3 111.5,437.3 111.4,437.2 111.3,437.2 110.0,437.0 109.8,437.0 109.7,437.0 109.6,437.0 109.5,437.1 107.4,437.6 107.3,437.6 107.2,437.6 107.1,437.7 107.0,437.7 105.7,438.6 105.6,438.6 105.6,438.6 104.1,438.0 101.9,437.1 101.7,437.1 101.6,437.0 101.5,437.0 101.3,437.0 101.2,437.0 99.7,437.3 99.6,437.3 99.4,437.3 99.3,437.4 97.8,438.2 97.7,438.2 97.6,438.3 97.5,438.4 97.4,438.4 97.3,438.5 97.3,438.6 95.9,440.8 95.9,440.9 95.9,440.9 87.3,440.9 87.2,440.9 87.2,440.9 85.4,440.4 85.2,440.4 85.0,440.4 81.5,440.4 81.4,440.4 81.2,440.4 81.1,440.4 81.0,440.4 80.9,440.5 80.8,440.5 79.0,441.6 78.9,441.7 78.8,441.8 78.7,441.9 78.6,442.0 78.6,442.1 78.5,442.2 78.5,442.3 78.4,442.4Z" fill="#000"/><g fill="#000"><circle cx="313.3" cy="433.0" r="3.6"/><circle cx="313.3" cy="439.6" r="3.6"/></g><g fill="#f00"><circle cx="150.6" cy="411.9" r="4.5"/><circle cx="154.4" cy="408.8" r="4.5"/><circle cx="158.0" cy="411.9" r="4.5"/><circle cx="161.5" cy="408.8" r="4.5"/><circle cx="162.1" cy="411.9" r="4.5"/></g><rect x="136.9" y="596.7" width="42.1" height="5.8" fill="#f00"/><polygon points="161,583.9 147,607.5 175,607.5" fill="#f00"/><rect x="70.6" y="356.3" width="254.5" height="264.5" fill="none" stroke="#2b2b2b" stroke-width="1"/><line x1="62.3" x2="70.6" y1="392.3" y2="392.3" stroke="#2b2b2b" stroke-width="1"/><line x1="62.3" x2="70.6" y1="489" y2="489" stroke="#2b2b2b" stroke-width="1"/><line x1="62.3" x2="70.6" y1="584.9" y2="584.9" stroke="#2b2b2b" stroke-width="1"/><line x1="81.6" x2="81.6" y1="620.8" y2="629.0" stroke="#2b2b2b" stroke-width="1"/><line x1="165.9" x2="165.9" y1="620.8" y2="629.0" stroke="#2b2b2b" stroke-width="1"/><line x1="250.6" x2="250.6" y1="620.8" y2="629.0" stroke="#2b2b2b" stroke-width="1"/>
<polygon points="421.0,254.8 421.0,251.9 426.5,250.4 435.7,250.8 443.0,246.3 450.4,242.3 455.9,240.1 463.2,234.2 470.6,226.1 477.9,213.2 483.4,204.0 488.9,193.0 492.6,180.1 496.2,165.4 499.9,152.5 503.6,143.3 507.2,132.2 509.8,123.0 512.8,108.3 516.4,91.8 520.1,77.0 523.8,62.3 527.4,49.4 531.1,40.2 534.8,35.8 538.4,34.7 541.4,35.8 543.9,40.2 547.6,51.3 551.3,66.0 555.0,82.6 558.6,101.0 562.3,123.0 566.0,143.3 569.6,163.5 573.3,181.9 577.0,200.3 580.6,216.9 584.3,229.8 588.0,239.0 591.7,245.2 595.3,248.9 600.8,252.2 608.2,254.1 619.2,254.6 640.1,254.8" fill="#a6a6a6"/><line x1="612" x2="670.4" y1="254.45" y2="254.45" stroke="#d8d8d8" stroke-width="0.7"/><line x1="538.0" x2="538.0" y1="266.3" y2="1.5" stroke="#000" stroke-width="1.7" stroke-dasharray="5.6 5.6"/><rect x="408.65" y="1.5" width="274.05" height="264.8" fill="none" stroke="#2b2b2b" stroke-width="1"/><line x1="400.4" x2="408.65" y1="254.8" y2="254.8" stroke="#2b2b2b" stroke-width="1"/><line x1="400.4" x2="408.65" y1="194.4" y2="194.4" stroke="#2b2b2b" stroke-width="1"/><line x1="400.4" x2="408.65" y1="134.2" y2="134.2" stroke="#2b2b2b" stroke-width="1"/><line x1="400.4" x2="408.65" y1="73.6" y2="73.6" stroke="#2b2b2b" stroke-width="1"/><line x1="400.4" x2="408.65" y1="13.1" y2="13.1" stroke="#2b2b2b" stroke-width="1"/><line x1="421.0" x2="421.0" y1="266.3" y2="274.5" stroke="#2b2b2b" stroke-width="1"/><line x1="483.4" x2="483.4" y1="266.3" y2="274.5" stroke="#2b2b2b" stroke-width="1"/><line x1="545.7" x2="545.7" y1="266.3" y2="274.5" stroke="#2b2b2b" stroke-width="1"/><line x1="608.0" x2="608.0" y1="266.3" y2="274.5" stroke="#2b2b2b" stroke-width="1"/><line x1="670.4" x2="670.4" y1="266.3" y2="274.5" stroke="#2b2b2b" stroke-width="1"/>
<polygon points="421.0,609.6 432.0,608.5 444.9,606.7 455.9,602.2 465.0,597.5 470.6,591.9 476.1,584.6 481.6,580.2 487.1,573.6 492.6,566.2 498.1,557.0 503.6,544.1 509.1,529.4 514.6,514.7 520.1,496.3 525.6,474.3 531.1,450.4 534.8,439.3 540.3,428.3 545.8,415.4 549.4,406.3 552.4,401.5 555.0,406.3 558.6,413.6 564.1,421.0 567.8,428.3 571.5,439.3 575.1,457.7 578.8,478.0 582.5,498.2 586.1,518.4 589.8,536.8 593.5,555.2 597.2,569.9 600.8,582.8 604.5,592.7 608.2,599.3 613.7,604.8 621.0,608.1 630.2,609.2 640.1,609.6" fill="#a6a6a6"/><line x1="612" x2="670.4" y1="609.25" y2="609.25" stroke="#d8d8d8" stroke-width="0.7"/><line x1="552.3" x2="552.3" y1="620.8" y2="356.3" stroke="#000" stroke-width="1.7" stroke-dasharray="5.6 5.6"/><rect x="408.65" y="356.3" width="274.05" height="264.5" fill="none" stroke="#2b2b2b" stroke-width="1"/><line x1="400.4" x2="408.65" y1="609.6" y2="609.6" stroke="#2b2b2b" stroke-width="1"/><line x1="400.4" x2="408.65" y1="548.9" y2="548.9" stroke="#2b2b2b" stroke-width="1"/><line x1="400.4" x2="408.65" y1="489.0" y2="489.0" stroke="#2b2b2b" stroke-width="1"/><line x1="400.4" x2="408.65" y1="428.4" y2="428.4" stroke="#2b2b2b" stroke-width="1"/><line x1="400.4" x2="408.65" y1="368.1" y2="368.1" stroke="#2b2b2b" stroke-width="1"/><line x1="421.0" x2="421.0" y1="620.8" y2="629.0" stroke="#2b2b2b" stroke-width="1"/><line x1="483.4" x2="483.4" y1="620.8" y2="629.0" stroke="#2b2b2b" stroke-width="1"/><line x1="545.7" x2="545.7" y1="620.8" y2="629.0" stroke="#2b2b2b" stroke-width="1"/><line x1="608.0" x2="608.0" y1="620.8" y2="629.0" stroke="#2b2b2b" stroke-width="1"/><line x1="670.4" x2="670.4" y1="620.8" y2="629.0" stroke="#2b2b2b" stroke-width="1"/>
<g><text transform="translate(29.43,13.7) scale(0.893,1)" font-size="26" font-weight="bold" stroke="#000" fill="#000" stroke-width="0.9" stroke-linejoin="round">a</text>
<text transform="translate(28.49,367.8) scale(1.092,1)" font-size="26" font-weight="bold" stroke="#000" fill="#000" stroke-width="0.9" stroke-linejoin="round">b</text>
<text transform="translate(29.49,41.9) scale(1.123,1)" font-size="14.8">0.6</text>
<text transform="translate(29.49,138.5) scale(1.123,1)" font-size="14.8">0.5</text>
<text transform="translate(29.50,234.9) scale(1.109,1)" font-size="14.8">0.4</text>
<text transform="translate(29.49,396.90000000000003) scale(1.123,1)" font-size="14.8">0.6</text>
<text transform="translate(29.49,493.6) scale(1.123,1)" font-size="14.8">0.5</text>
<text transform="translate(29.50,589.5) scale(1.109,1)" font-size="14.8">0.4</text>
<text transform="translate(77.61,296.9) scale(1.090,1)" font-size="14.8">0</text>
<text transform="translate(213.39,296.9) scale(1.141,1)" font-size="14.8">20</text>
<text transform="translate(283.79,296.9) scale(1.123,1)" font-size="14.8">30</text>
<text transform="translate(76.72,648.6) scale(1.159,1)" font-size="14.8">0</text>
<text transform="translate(240.91,648.6) scale(1.121,1)" font-size="14.8">20</text>
<text transform="translate(78.34,328.6) scale(1.078,1)" font-size="17.2">Chromosome 7 position (Mb)</text>
<text transform="translate(74.35,677.5) scale(1.070,1)" font-size="17.2">Chromosome 14 position (Mb)</text>
<text transform="translate(12.9,454.28) rotate(-90) scale(1.088,1)" font-size="17.2">Proportion alleles <tspan font-style="italic">X. cortezi</tspan>-derived</text>
<text transform="translate(383.21,259.40000000000003) scale(1.076,1)" font-size="14.8">0</text>
<text transform="translate(385.07,199.0) scale(0.785,1)" font-size="14.8">1</text>
<text transform="translate(382.88,138.79999999999998) scale(1.156,1)" font-size="14.8">2</text>
<text transform="translate(383.19,78.19999999999999) scale(1.114,1)" font-size="14.8">3</text>
<text transform="translate(383.49,17.7) scale(1.040,1)" font-size="14.8">4</text>
<text transform="translate(383.21,614.2) scale(1.076,1)" font-size="14.8">0</text>
<text transform="translate(385.07,553.5) scale(0.785,1)" font-size="14.8">1</text>
<text transform="translate(382.88,493.6) scale(1.156,1)" font-size="14.8">2</text>
<text transform="translate(383.19,433.0) scale(1.114,1)" font-size="14.8">3</text>
<text transform="translate(383.49,372.70000000000005) scale(1.040,1)" font-size="14.8">4</text>
<text transform="translate(416.01,295.0) scale(1.172,1)" font-size="14.8">0</text>
<text transform="translate(467.72,295.0) scale(1.067,1)" font-size="14.8">0.25</text>
<text transform="translate(529.28,295.0) scale(1.139,1)" font-size="14.8">0.50</text>
<text transform="translate(592.73,295.0) scale(1.041,1)" font-size="14.8">0.75</text>
<text transform="translate(416.01,648.6) scale(1.172,1)" font-size="14.8">0</text>
<text transform="translate(467.72,648.6) scale(1.067,1)" font-size="14.8">0.25</text>
<text transform="translate(529.28,648.6) scale(1.139,1)" font-size="14.8">0.50</text>
<text transform="translate(592.73,648.6) scale(1.041,1)" font-size="14.8">0.75</text>
<text transform="translate(461.12,323.7) scale(1.103,1)" font-size="17.2">Selection coefficient</text>
<text transform="translate(461.12,677.6) scale(1.103,1)" font-size="17.2">Selection coefficient</text>
<text transform="translate(368.5,164.63) rotate(-90) scale(1.051,1)" font-size="17.2">Density</text>
<text transform="translate(368.5,519.43) rotate(-90) scale(1.051,1)" font-size="17.2">Density</text>
<text transform="translate(565.83,26.7) scale(1.092,1)" font-size="14.2">Chromosome 7</text>
<text transform="translate(560.74,381.8) scale(1.078,1)" font-size="14.2">Chromosome 14</text>
<text transform="translate(0,296.9) scale(1.090,1)" font-size="14.8"><tspan x="130.75">1</tspan><tspan x="138.40">0</tspan></text>
<text transform="translate(0,648.6) scale(1.090,1)" font-size="14.8"><tspan x="143.23">1</tspan><tspan x="150.79">0</tspan></text>
<text transform="translate(0,295.0) scale(1.232,1)" font-size="14.8"><tspan x="529.35">1</tspan><tspan x="536.13">.00</tspan></text>
<text transform="translate(0,648.6) scale(1.232,1)" font-size="14.8"><tspan x="529.35">1</tspan><tspan x="536.13">.00</tspan></text>
<text transform="translate(0,44.8) scale(1.026,1)" font-size="15.4"><tspan x="572.29"><tspan font-style="italic">s</tspan></tspan> <tspan x="582.97">=</tspan> <tspan x="595.16">0.469</tspan></text>
<text transform="translate(0,400.2) scale(0.964,1)" font-size="15.4"><tspan x="608.93">s</tspan> <tspan x="620.60">=</tspan> <tspan x="633.32">0.527</tspan></text></g>
</svg>
</body></html>
